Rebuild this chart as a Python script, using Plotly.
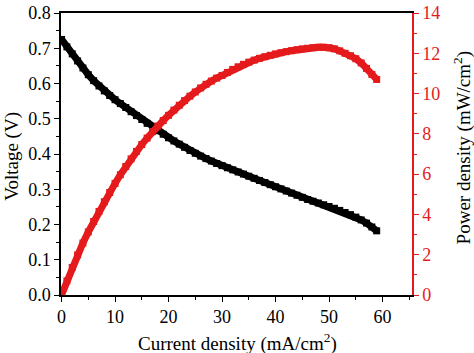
import plotly.graph_objects as go

current = [0, 1, 2, 3, 4, 5, 6, 7, 8, 9, 10, 11, 12, 13, 14, 15, 16, 17, 18, 19,
           20, 21, 22, 23, 24, 25, 26, 27, 28, 29, 30, 31, 32, 33, 34, 35, 36, 37, 38, 39,
           40, 41, 42, 43, 44, 45, 46, 47, 48, 49, 50, 51, 52, 53, 54, 55, 56, 57, 58, 58.9]

voltage = [0.725, 0.704, 0.684, 0.664, 0.644, 0.625, 0.608, 0.593, 0.579, 0.566,
           0.554, 0.543, 0.532, 0.520, 0.509, 0.498, 0.487, 0.477, 0.466, 0.456,
           0.446, 0.437, 0.428, 0.419, 0.410, 0.402, 0.394, 0.387, 0.380, 0.373,
           0.367, 0.361, 0.355, 0.349, 0.343, 0.337, 0.331, 0.325, 0.319, 0.313,
           0.307, 0.301, 0.295, 0.289, 0.283, 0.277, 0.271, 0.266, 0.261, 0.256,
           0.251, 0.246, 0.240, 0.234, 0.228, 0.221, 0.213, 0.204, 0.193, 0.182]

power = [0.00, 0.70, 1.37, 1.99, 2.58, 3.13, 3.65, 4.15, 4.63, 5.09,
         5.54, 5.97, 6.38, 6.76, 7.13, 7.47, 7.79, 8.11, 8.39, 8.66,
         8.92, 9.18, 9.42, 9.65, 9.87, 10.08, 10.28, 10.46, 10.62, 10.77,
         10.90, 11.05, 11.20, 11.33, 11.45, 11.56, 11.66, 11.75, 11.83, 11.90,
         11.97, 12.03, 12.08, 12.13, 12.18, 12.22, 12.25, 12.28, 12.30, 12.30,
         12.28, 12.22, 12.12, 12.00, 11.88, 11.73, 11.52, 11.25, 10.95, 10.70]

x_ticks = [0, 10, 20, 30, 40, 50, 60]
v_ticks = [0.0, 0.1, 0.2, 0.3, 0.4, 0.5, 0.6, 0.7, 0.8]
p_ticks = [0, 2, 4, 6, 8, 10, 12, 14]

x_title = "Current density (mA/cm<sup>2</sup>)"
v_title = "Voltage (V)"
p_title = "Power density (mW/cm<sup>2</sup>)"

BLACK = "#000000"
RED = "#e41a1c"
FONT = "Liberation Serif"

fig = go.Figure()
fig.add_trace(go.Scatter(
    x=current, y=voltage, mode="lines+markers",
    line=dict(color=BLACK, width=7),
    marker=dict(symbol="square", size=7, color=BLACK),
    showlegend=False, yaxis="y"))
fig.add_trace(go.Scatter(
    x=current, y=power, mode="lines+markers",
    line=dict(color=RED, width=7),
    marker=dict(symbol="square", size=7, color=RED),
    showlegend=False, yaxis="y2"))

fig.update_layout(
    width=474, height=353,
    margin=dict(l=61, r=62, t=13, b=58, autoexpand=False),
    paper_bgcolor="white", plot_bgcolor="white",
    font=dict(family=FONT, size=18, color=BLACK),
    xaxis=dict(
        range=[-0.1, 65.5], tickvals=x_ticks, automargin=False,
        ticks="outside", ticklen=5, tickwidth=1.3, tickcolor=BLACK,
        minor=dict(dtick=5, tick0=0, ticks="outside", ticklen=3, tickwidth=1.2, tickcolor=BLACK, showgrid=False),
        showline=True, linecolor=BLACK, linewidth=1.5, mirror=True,
        showgrid=False, zeroline=False,
        tickfont=dict(family=FONT, size=18, color=BLACK),
    ),
    yaxis=dict(
        range=[0, 0.8], tickvals=v_ticks, ticktext=[f"{v:.1f}" for v in v_ticks],
        automargin=False,
        ticks="outside", ticklen=5, tickwidth=1.3, tickcolor=BLACK,
        minor=dict(dtick=0.05, tick0=0, ticks="outside", ticklen=3, tickwidth=1.2, tickcolor=BLACK, showgrid=False),
        showline=True, linecolor=BLACK, linewidth=1.5,
        showgrid=False, zeroline=False,
        tickfont=dict(family=FONT, size=18, color=BLACK),
    ),
    yaxis2=dict(
        range=[0, 14], tickvals=p_ticks, overlaying="y", side="right",
        automargin=False,
        ticks="outside", ticklen=5, tickwidth=1.3, tickcolor=RED,
        minor=dict(dtick=1, tick0=0, ticks="outside", ticklen=3, tickwidth=1.2, tickcolor=RED, showgrid=False),
        showline=True, linecolor=RED, linewidth=1.5,
        showgrid=False, zeroline=False,
        tickfont=dict(family=FONT, size=18, color=RED),
    ),
    annotations=[
        dict(text=x_title, xref="paper", yref="paper", x=0.503, y=-0.167,
             xanchor="center", yanchor="middle", showarrow=False,
             font=dict(family=FONT, size=19, color=BLACK)),
        dict(text=v_title, xref="paper", yref="paper", x=-0.14, y=0.493,
             xanchor="center", yanchor="middle", showarrow=False, textangle=-90,
             font=dict(family=FONT, size=19, color=BLACK)),
        dict(text=p_title, xref="paper", yref="paper", x=1.1425, y=0.52,
             xanchor="center", yanchor="middle", showarrow=False, textangle=-90,
             font=dict(family=FONT, size=19, color=BLACK)),
    ],
)

fig.write_html("out.html")
